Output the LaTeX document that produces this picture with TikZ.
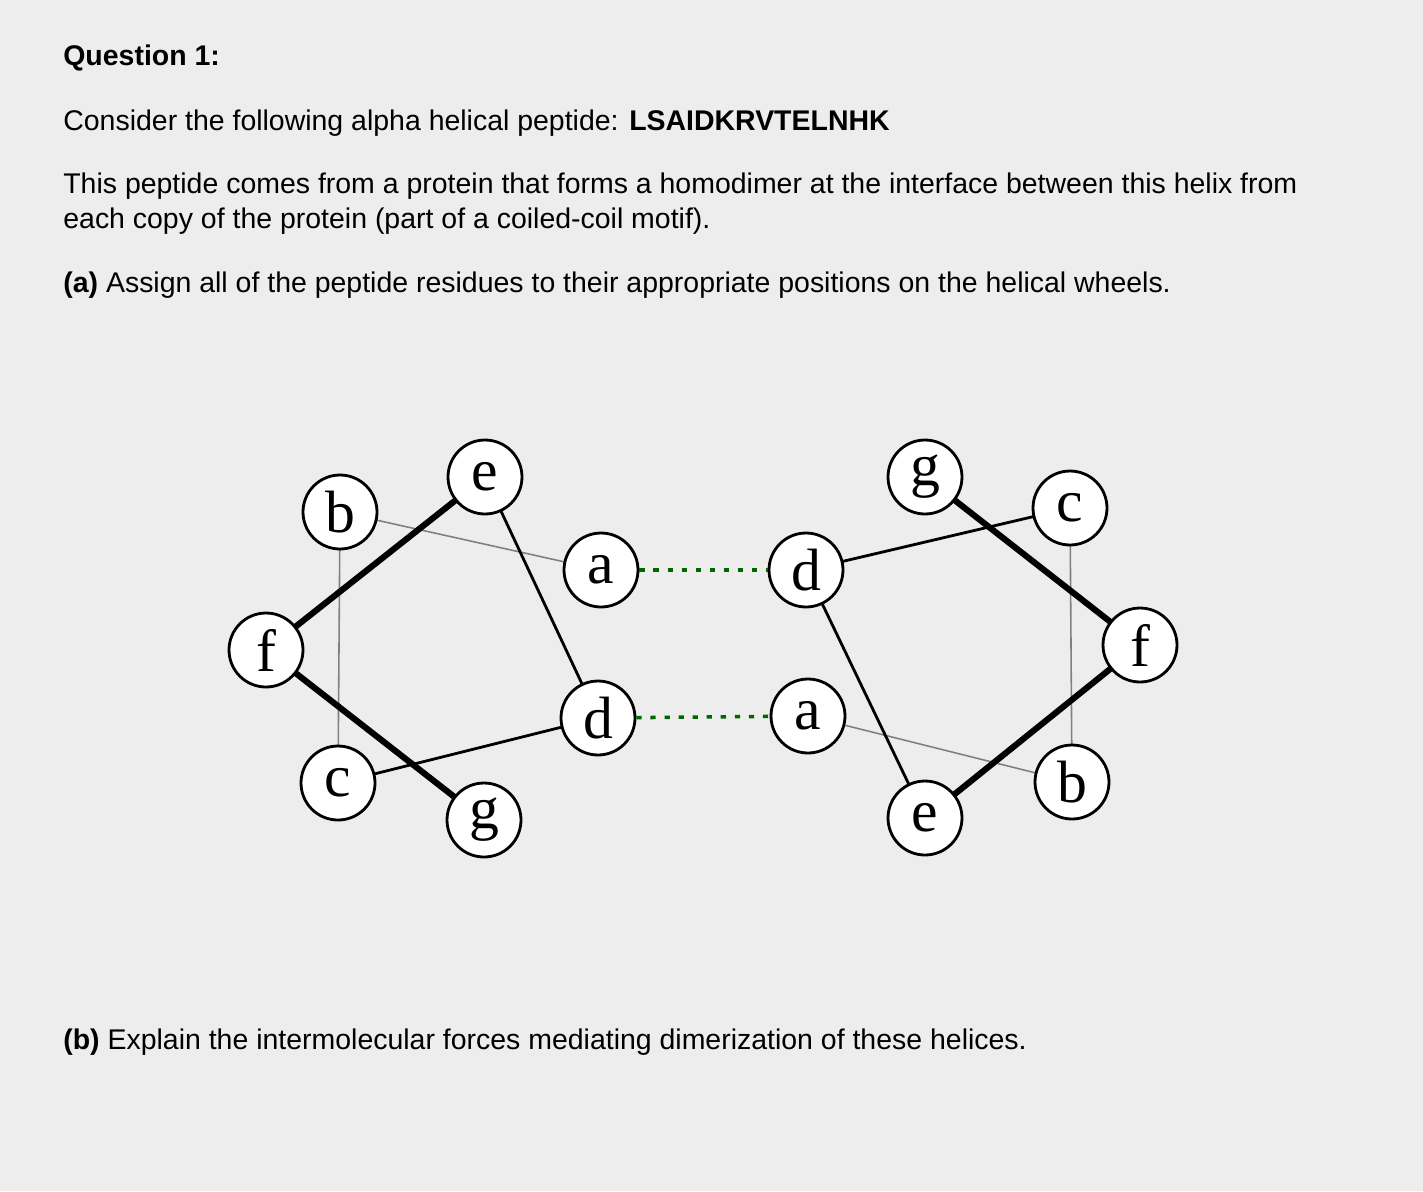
\documentclass[tikz,border=0pt]{standalone}
\usepackage{fontspec}
\setsansfont{Liberation Sans}
\newfontfamily\wheelfont{Liberation Serif}
\begin{document}
\begin{tikzpicture}[x=0.02cm,y=-0.02cm,
 res/.style={circle,draw,line width=1.6pt,minimum size=1.48cm,inner sep=0pt,fill=white,font=\wheelfont\fontsize{34}{34}\selectfont},
 thk/.style={line width=3.5pt},
 med/.style={line width=1.6pt},
 thn/.style={line width=0.9pt,gray},
 dim/.style={line width=2pt,dash pattern=on 3pt off 5pt,green!40!black},
 txt/.style={anchor=west,font=\sffamily\fontsize{16.2}{19.5}\selectfont,inner sep=0pt}]
\fill[gray!14] (0,0) rectangle (1423,1191);
\useasboundingbox (0,0) rectangle (1423,1191);
\node[txt] (q) at (63,58) {\textbf{Question 1:}};
\node[txt] (t1) at (63,123) {Consider the following alpha helical peptide: \textbf{LSAIDKRVTELNHK}};
\node[txt,align=left,anchor=north west] (t2) at (63,173) {This peptide comes from a protein that forms a homodimer at the interface between this helix from\\each copy of the protein (part of a coiled-coil motif).};
\node[txt] (t3) at (63,285) {\textbf{(a)} Assign all of the peptide residues to their appropriate positions on the helical wheels.};
\node[txt] (t4) at (63,1042) {\textbf{(b)} Explain the intermolecular forces mediating dimerization of these helices.};
\coordinate (Lb) at (340,512); \coordinate (Le) at (485,477); \coordinate (La) at (601,570);
\coordinate (Ld) at (598,718); \coordinate (Lg) at (484,820); \coordinate (Lc) at (338,783);
\coordinate (Lf) at (266,650);
\coordinate (Rg) at (925,477); \coordinate (Rc) at (1070,508); \coordinate (Rd) at (806,570);
\coordinate (Rf) at (1140,645); \coordinate (Ra) at (808,716); \coordinate (Re) at (925,818);
\coordinate (Rb) at (1072,782);
\draw[thn] (Lb) -- (La); \draw[thn] (Lb) -- (Lc);
\draw[med] (Le) -- (Ld); \draw[med] (Lc) -- (Ld);
\draw[thk] (Lf) -- (Le); \draw[thk] (Lf) -- (Lg);
\draw[thn] (Rb) -- (Ra); \draw[thn] (Rb) -- (Rc);
\draw[med] (Re) -- (Rd); \draw[med] (Rc) -- (Rd);
\draw[thk] (Rf) -- (Rg); \draw[thk] (Rf) -- (Re);
\foreach \n/\l in {Lb/b,Le/e,La/a,Ld/d,Lg/g,Lc/c,Lf/f,Rg/g,Rc/c,Rd/d,Rf/f,Ra/a,Re/e,Rb/b}
  \node[res] (n\n) at (\n) {\l};
\draw[dim] (nLa) -- (nRd);
\draw[dim] (nLd) -- (nRa);
\end{tikzpicture}
\end{document}
